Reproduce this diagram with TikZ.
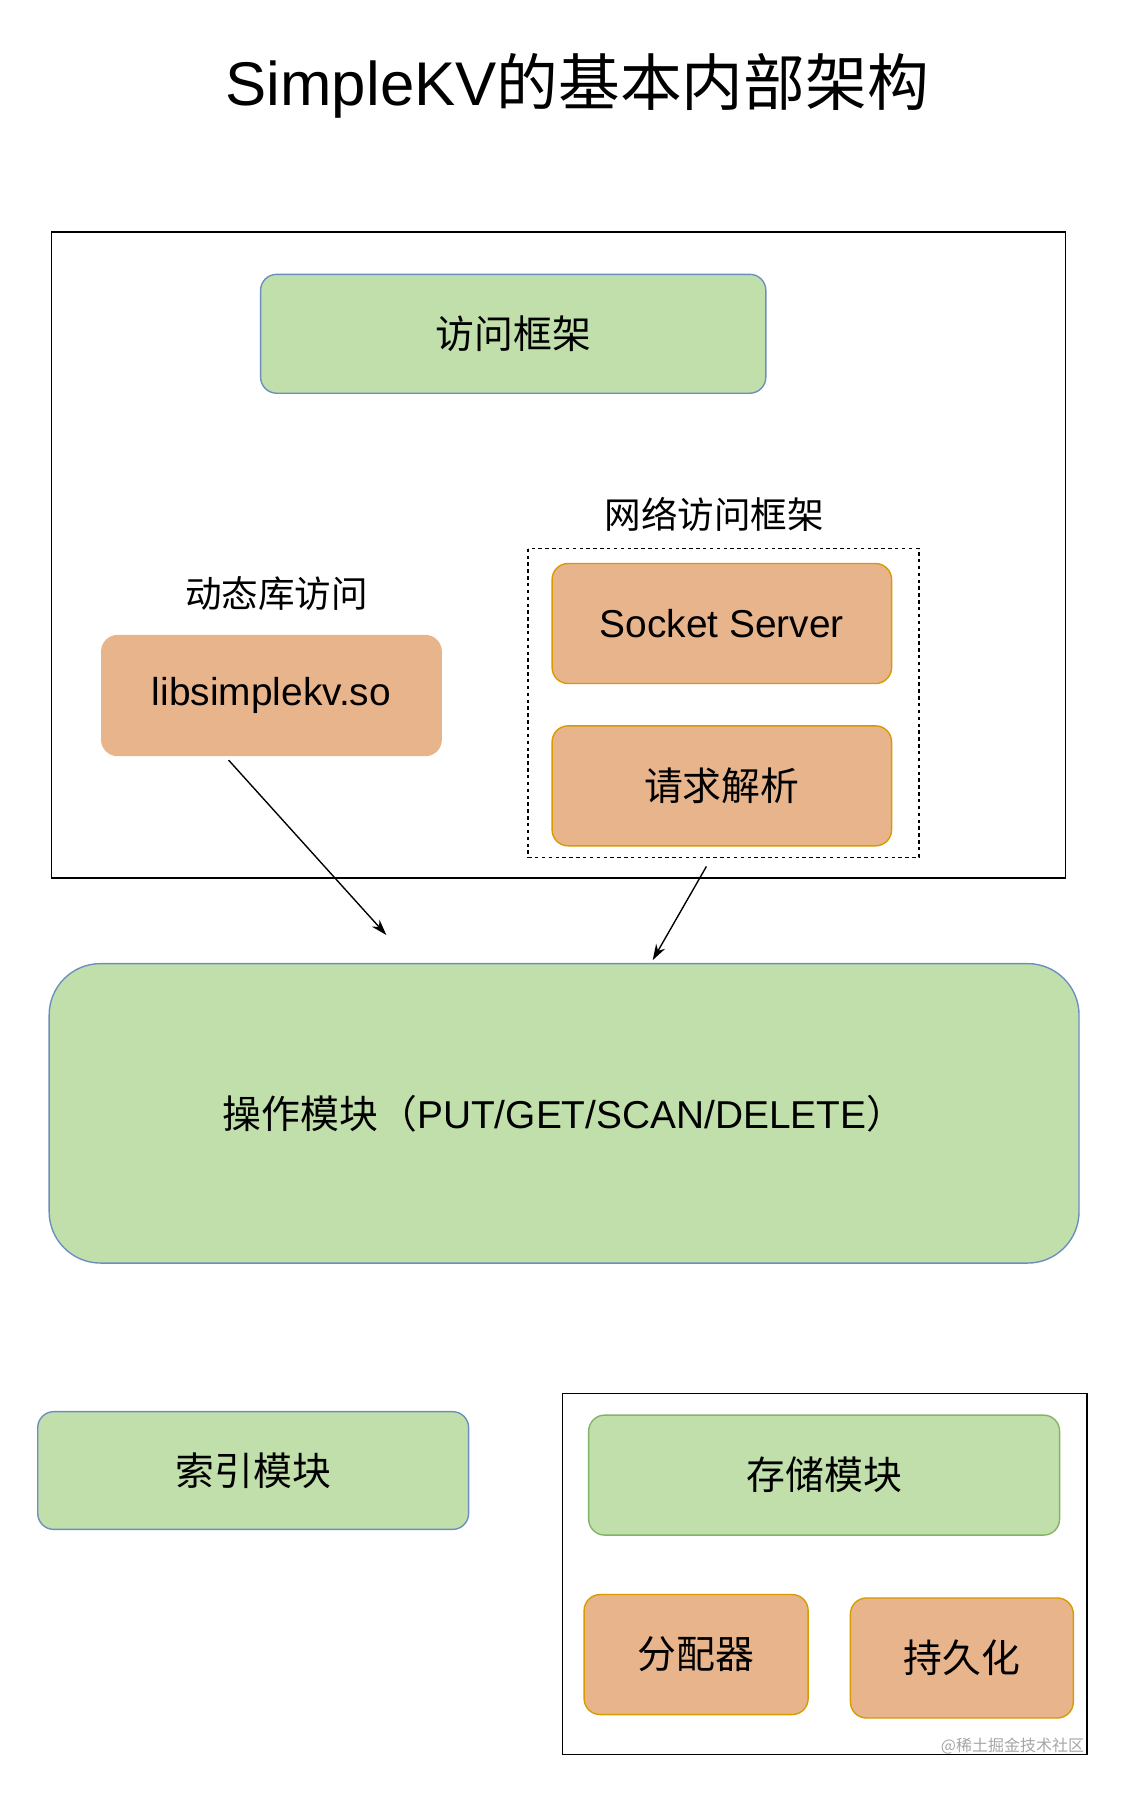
\documentclass[tikz,border=0pt]{standalone}
\usepackage{fontspec}
\setmainfont{Liberation Sans}
\newfontfamily\cjk{Noto Sans CJK SC}
\usetikzlibrary{arrows.meta}
\definecolor{gfill}{RGB}{193,223,170}
\definecolor{ofill}{RGB}{232,180,140}
\definecolor{bline}{RGB}{108,142,191}
\definecolor{gline}{RGB}{130,179,102}
\definecolor{oline}{RGB}{215,155,0}
\tikzset{
 box/.style={rectangle,rounded corners=14pt,inner sep=0pt,font=\fontsize{34}{40}\selectfont,line width=1.2pt},
 gb/.style={box,fill=gfill,draw=bline},
 ob/.style={box,fill=ofill,draw=oline},
 lbl/.style={font=\cjk\fontsize{32}{38}\selectfont},
 arr/.style={-{Stealth[length=14pt,width=9pt]},line width=1.2pt},
}
\newcommand{\bx}[6]{\node[#1,minimum width=#4-#2,minimum height=#5-#3] (#6) at ({(#2+#4)/2},{(#3+#5)/2})}
\begin{document}
\begin{tikzpicture}[x=1pt,y=-1pt]
\useasboundingbox (0,0) rectangle (985,1573);
\node[font=\fontsize{54}{60}\selectfont] (title) at (505,75) {SimpleKV{\cjk 的基本内部架构}};
\draw[line width=1.2pt] (45,203) rectangle (932,768);
\bx{gb}{228}{240}{670}{344}{acc} {\cjk 访问框架};
\node[lbl] (netl) at (625,450) {网络访问框架};
\draw[dashed,line width=1.2pt] (462,480) rectangle (804,750);
\bx{ob}{483}{493}{780}{598}{sock} {Socket Server};
\bx{ob}{483}{635}{780}{740}{req} {\cjk 请求解析};
\node[lbl] (dynl) at (242,519) {动态库访问};
\bx{box,fill=ofill,draw=ofill}{89}{556}{386}{661}{lib} {libsimplekv.so};
\bx{gb,rounded corners=45pt}{43}{843}{944}{1105}{op} {{\cjk 操作模块（}PUT/GET/SCAN/DELETE{\cjk ）}};
\coordinate (a1s) at (200,665); \coordinate (a1e) at (338,818);
\coordinate (a2s) at (618,758); \coordinate (a2e) at (571,840);
\draw[arr] (a1s) -- (a1e);
\draw[arr] (a2s) -- (a2e);
\bx{gb}{33}{1235}{410}{1338}{idx} {\cjk 索引模块};
\draw[line width=1.2pt] (492,1219) rectangle (951,1535);
\bx{gb,draw=gline}{515}{1238}{927}{1343}{sto} {\cjk 存储模块};
\bx{ob}{511}{1395}{707}{1500}{alloc} {\cjk 分配器};
\bx{ob}{744}{1398}{939}{1503}{pers} {\cjk 持久化};
\node[font=\cjk\fontsize{14}{16}\selectfont,text=gray!70,anchor=east] (wm) at (952,1528) {@稀土掘金技术社区};
\end{tikzpicture}
\end{document}
